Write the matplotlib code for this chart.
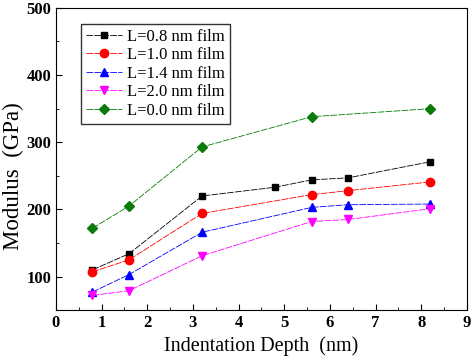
import numpy as np
import matplotlib.pyplot as plt
from matplotlib.ticker import MultipleLocator

plt.rcParams['font.family'] = ['Liberation Serif', 'DejaVu Serif']

depth_08 = [0.8, 1.6, 3.2, 4.8, 5.6, 6.4, 8.2]
mod_08 = [110, 134, 220, 233, 244, 247, 271]
depth = [0.8, 1.6, 3.2, 5.6, 6.4, 8.2]
mod_10 = [107, 125, 194, 222, 228, 241]
mod_14 = [77, 103, 166, 203, 207, 208]
mod_20 = [72, 79, 131, 182, 185, 201]
depth_00 = [0.8, 1.6, 3.2, 5.6, 8.2]
mod_00 = [172, 205, 293, 338, 350]

fig = plt.figure(figsize=(4.74, 3.59), dpi=100)
ax = fig.add_axes([0.118, 0.136, 0.867, 0.842])

ls = (0, (8, 1.5))
ax.plot(depth_08, mod_08, color='black', marker='s', ms=5, lw=0.6, ls=ls, label='L=0.8 nm film')
ax.plot(depth, mod_10, color='red', marker='o', ms=6, lw=0.6, ls=ls, label='L=1.0 nm film')
ax.plot(depth, mod_14, color='blue', marker='^', ms=6, lw=0.6, ls=ls, label='L=1.4 nm film')
ax.plot(depth, mod_20, color='magenta', marker='v', ms=6, lw=0.6, ls=ls, label='L=2.0 nm film')
ax.plot(depth_00, mod_00, color='green', marker='D', ms=5, lw=0.6, ls=ls, label='L=0.0 nm film',
        markerfacecolor='#0a7a0a', markeredgecolor='#0a7a0a')

ax.set_xlim(0, 9)
ax.set_ylim(50, 500)
ax.xaxis.set_major_locator(MultipleLocator(1))
ax.xaxis.set_minor_locator(MultipleLocator(0.5))
ax.yaxis.set_major_locator(MultipleLocator(100))
ax.yaxis.set_minor_locator(MultipleLocator(50))
ax.tick_params(which='both', direction='in', labelsize=12)
ax.tick_params(which='major', length=4)
ax.tick_params(which='minor', length=2)
for lab in ax.get_xticklabels() + ax.get_yticklabels():
    lab.set_fontweight('bold')

ax.set_xlabel('Indentation Depth  (nm)', fontsize=14.5)
ax.set_ylabel('Modulus  (GPa)', fontsize=16.5)
ax.yaxis.set_label_coords(-0.078, 0.445)

ax.legend(loc='upper left', bbox_to_anchor=(0.04, 0.975), fontsize=12, frameon=True, fancybox=False,
          edgecolor='black', handlelength=2.2, handletextpad=0.3, labelspacing=0.15, borderpad=0.3)

fig.savefig('out.png', dpi=100)
